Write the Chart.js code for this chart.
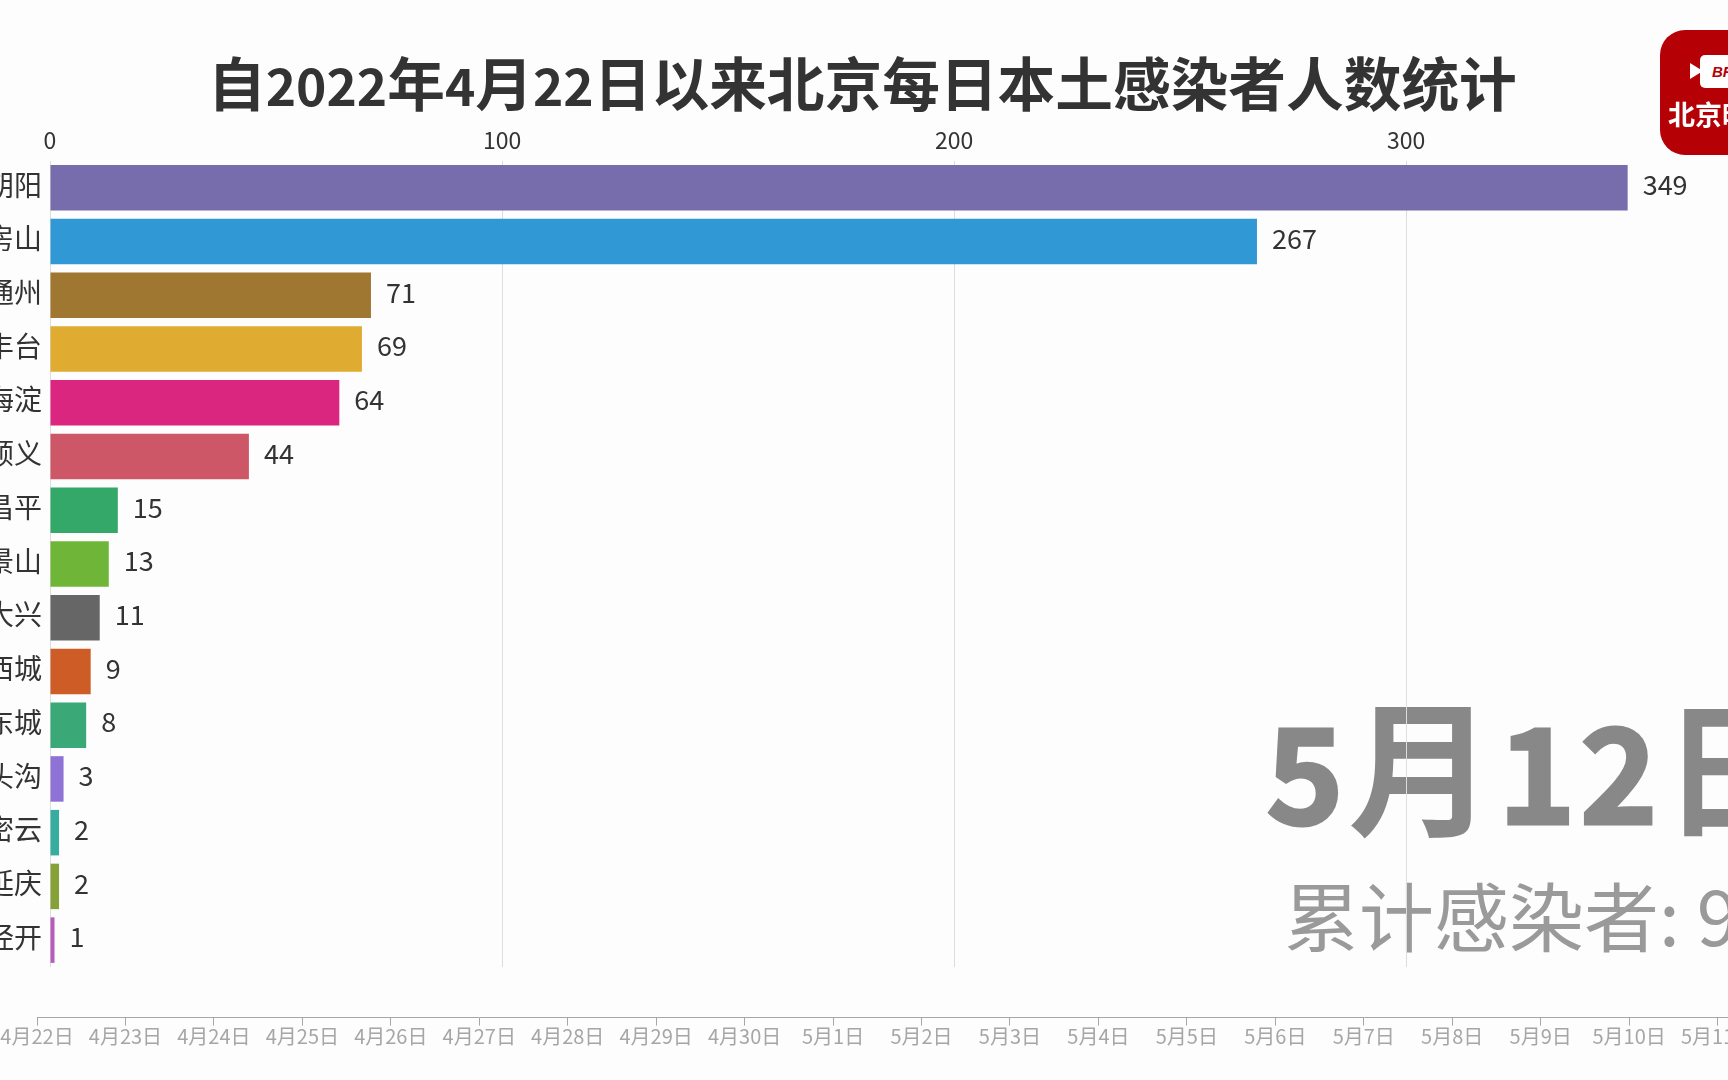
<!DOCTYPE html>
<html>
<head>
<meta charset="utf-8">
<title>北京每日本土感染者人数统计</title>
<script src="https://cdn.jsdelivr.net/npm/chart.js@4/dist/chart.umd.min.js"></script>
<style>
    html, body { margin: 0; padding: 0; width: 1728px; height: 1080px; overflow: hidden; background: #fdfdfd; }
    canvas { position: absolute; left: 0; }
    #raceChart { top: 0; }
    #dateAxis { top: 990px; }
    #logo { position: absolute; left: 1660px; top: 30px; width: 120px; height: 125px; border-radius: 25px; background: #b50006; overflow: hidden; font-family: "Noto Sans CJK SC"; color: #fff; }
    #logoPill { position: absolute; left: 40px; top: 25px; width: 70px; height: 33px; border-radius: 5px; background: #fff; color: #b50006; font: italic 700 15px/33px "Liberation Sans"; text-indent: 12px; }
    #logoArrow { position: absolute; left: 30px; top: 33px; width: 0; height: 0; border-left: 13px solid #fff; border-top: 8.5px solid transparent; border-bottom: 8.5px solid transparent; }
    #logoName { position: absolute; left: 8px; top: 66px; font-size: 27px; line-height: 36px; font-weight: 700; white-space: nowrap; }
</style>
</head>
<body>
<canvas id="raceChart" width="1728" height="1080"></canvas>
<canvas id="dateAxis" width="1900" height="90"></canvas>
<div id="logo">
    <div id="logoPill">BRTV</div>
    <div id="logoArrow"></div>
    <div id="logoName">北京时间</div>
</div>
<script>
const FONT = '"Noto Sans CJK SC", "Noto Sans", sans-serif';

const titleText = '自2022年4月22日以来北京每日本土感染者人数统计';
const currentDate = '5月12日';
const totalLabel = '累计感染者: 928';

const districts = ['朝阳', '房山', '通州', '丰台', '海淀', '顺义', '昌平', '石景山', '大兴', '西城', '东城', '门头沟', '密云', '延庆', '经开'];
const cases = [349, 267, 71, 69, 64, 44, 15, 13, 11, 9, 8, 3, 2, 2, 1];
const barColors = ['#776cac', '#3198d6', '#a07730', '#dfab30', '#db2680', '#cd5667', '#34a868', '#6fb638', '#666666', '#cd5c26', '#3aa977', '#8e72d6', '#36ad9f', '#86a138', '#b55cbd'];
const dates = ['4月22日', '4月23日', '4月24日', '4月25日', '4月26日', '4月27日', '4月28日', '4月29日', '4月30日', '5月1日', '5月2日', '5月3日', '5月4日', '5月5日', '5月6日', '5月7日', '5月8日', '5月9日', '5月10日', '5月11日', '5月12日'];

// the reference font has smaller digits than hanzi, so text goes out char by char
function drawMixedText(ctx, text, x, y, digitSize, hanSize, gap, digitStroke) {
    ctx.strokeStyle = ctx.fillStyle;
    for (const ch of text) {
        const isDigit = ch >= '0' && ch <= '9';
        ctx.font = '700 ' + (isDigit ? digitSize : hanSize) + 'px ' + FONT;
        ctx.fillText(ch, x, y);
        if (isDigit && digitStroke) {
            ctx.lineWidth = digitStroke;
            ctx.strokeText(ch, x, y);
        }
        x += ctx.measureText(ch).width + gap;
    }
}

// title and big grey date + total, drawn first so the grid lines cross over them
const headings = {
    id: 'headings',
    beforeDraw(chart) {
        const ctx = chart.ctx;
        ctx.save();
        ctx.textAlign = 'left';
        ctx.textBaseline = 'alphabetic';
        ctx.fillStyle = '#333333';
        drawMixedText(ctx, titleText, 208, 106, 51.5, 57.7, 0, 0);
        ctx.fillStyle = '#888888';
        drawMixedText(ctx, currentDate, 1266, 824, 132, 146, 4, 3);
        ctx.fillStyle = '#9a9a9a';
        ctx.font = '400 75px ' + FONT;
        ctx.fillText(totalLabel, 1284, 946);
        ctx.restore();
    }
};

// number at the end of every bar
const valueLabels = {
    id: 'valueLabels',
    afterDatasetsDraw(chart) {
        const ctx = chart.ctx;
        const meta = chart.getDatasetMeta(0);
        ctx.save();
        ctx.font = '400 27px ' + FONT;
        ctx.fillStyle = '#333333';
        ctx.textAlign = 'left';
        ctx.textBaseline = 'middle';
        meta.data.forEach((bar, i) => {
            ctx.fillText(cases[i], bar.x + 15, bar.y - 3);
        });
        ctx.restore();
    }
};

new Chart(document.getElementById('raceChart'), {
    type: 'bar',
    data: {
        labels: districts,
        datasets: [{
            data: cases,
            backgroundColor: barColors,
            barPercentage: 0.847,
            categoryPercentage: 1,
            borderWidth: 0
        }]
    },
    options: {
        indexAxis: 'y',
        responsive: false,
        animation: false,
        layout: { padding: { top: 0, bottom: 113, left: 0, right: 0 } },
        plugins: {
            legend: { display: false },
            tooltip: { enabled: false }
        },
        scales: {
            x: {
                position: 'top',
                min: 0,
                max: 371.2,
                grid: { color: '#dddddd', lineWidth: 1, drawTicks: false },
                border: { display: false },
                ticks: {
                    stepSize: 100,
                    includeBounds: false,
                    color: '#333333',
                    padding: 7,
                    font: { family: FONT, size: 23 }
                },
                afterFit(scale) { scale.height = 161; }
            },
            y: {
                grid: { display: false, drawTicks: false },
                border: { display: false },
                ticks: {
                    color: '#333333',
                    padding: 8,
                    labelOffset: -3,
                    autoSkip: false,
                    font: { family: FONT, size: 28 }
                },
                afterFit(scale) { scale.width = 50; }
            }
        }
    },
    plugins: [headings, valueLabels]
});

// timeline strip along the bottom, runs past the right edge of the window
new Chart(document.getElementById('dateAxis'), {
    type: 'line',
    data: { labels: dates, datasets: [] },
    options: {
        responsive: false,
        animation: false,
        layout: { padding: { top: 0, bottom: 0, left: 37, right: 94 } },
        plugins: { legend: { display: false }, tooltip: { enabled: false } },
        scales: {
            x: {
                offset: false,
                grid: { drawOnChartArea: false, color: '#a6a6a6', tickLength: 8 },
                border: { color: '#a6a6a6', width: 1 },
                ticks: {
                    color: '#a6a6a6',
                    autoSkip: false,
                    maxRotation: 0,
                    padding: -1,
                    font: { family: FONT, size: 20 }
                },
                afterFit(scale) { scale.height = 62.4; }
            },
            y: { display: false }
        }
    }
});
</script>
</body>
</html>
